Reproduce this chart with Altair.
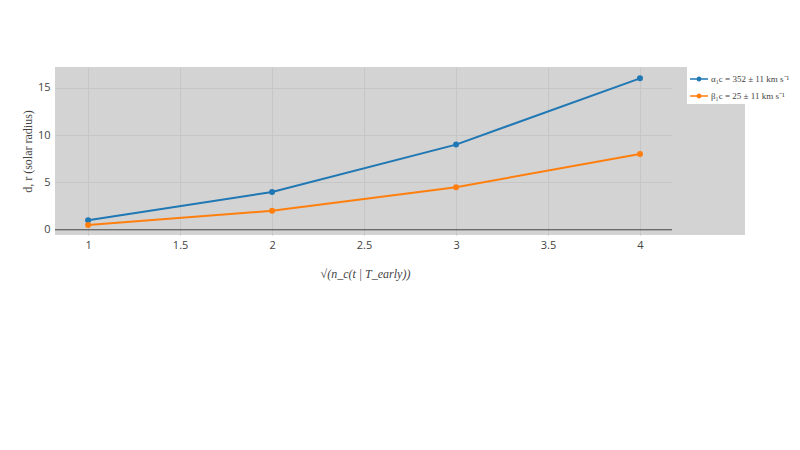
import altair as alt
import pandas as pd

xs = [1, 2, 3, 4]
alpha_vals = [1, 4, 9, 16]
beta_vals = [0.5, 2, 4.5, 8]
series_names = ["α₁c = 352 ± 11 km s⁻¹", "β₁c = 25 ± 11 km s⁻¹"]
colors = ["#1f77b4", "#ff7f0e"]
x_ticks = [1, 1.5, 2, 2.5, 3, 3.5, 4]
y_ticks = [0, 5, 10, 15]

rows = []
for name, vals in zip(series_names, [alpha_vals, beta_vals]):
    for x, y in zip(xs, vals):
        rows.append({"x": x, "y": y, "series": name})
df = pd.DataFrame(rows)

W, H = 617, 168
xscale = alt.Scale(domain=[0.82, 4.174], nice=False, zero=False)
yscale = alt.Scale(domain=[-0.55, 17.2], nice=False, zero=False)
color = alt.Color(
    "series:N",
    scale=alt.Scale(domain=series_names, range=colors),
    legend=alt.Legend(
        title=None,
        orient="none",
        legendX=632,
        legendY=0,
        fillColor="white",
        padding=3,
        labelFont="Liberation Serif",
        labelFontSize=9,
        labelColor="#444",
        labelLimit=200,
        symbolType="M-1,-0.08L1,-0.08L1,0.08L-1,0.08Z M0.27,0A0.27,0.27 0 1,1 -0.27,0A0.27,0.27 0 1,1 0.27,0Z",
        symbolSize=324,
        symbolStrokeWidth=0,
        rowPadding=3,
        labelOffset=3,
    ),
)

xaxis = alt.Axis(
    values=x_ticks, format="~g", ticks=False, domain=False, grid=True, gridColor="#c6c6c6",
    labelFont="Open Sans", labelFontSize=11, labelColor="#444", labelPadding=4,
    title="√(n_c(t | T_early))", titleFont="Liberation Serif", titleFontSize=12,
    titleFontWeight="normal", titleColor="#444", titleFontStyle="italic",
    titleX=310, titleY=38, titleBaseline="middle",
)
yaxis = alt.Axis(
    values=y_ticks, ticks=False, domain=False, grid=True, gridColor="#c6c6c6",
    gridOpacity=alt.condition("datum.value == 0", alt.value(0), alt.value(1)),
    labelFont="Open Sans", labelFontSize=11, labelColor="#444", labelPadding=5,
    title="d, r (solar radius)", titleFont="Liberation Serif", titleFontSize=12,
    titleFontWeight="normal", titleColor="#444",
    titleX=-28, titleY=84, titleAngle=-90, titleAlign="center", titleBaseline="middle",
)

ext = alt.Chart(pd.DataFrame({"a": [0]})).mark_rect(color="#d3d3d3").encode(
    x=alt.value(W), x2=alt.value(690), y=alt.value(0), y2=alt.value(H)
)

lines = alt.Chart(df).mark_line(strokeWidth=2).encode(
    x=alt.X("x:Q", scale=xscale, axis=xaxis),
    y=alt.Y("y:Q", scale=yscale, axis=yaxis),
    color=color,
)
zero_df = pd.DataFrame({"y": [0]})
zero_line = alt.Chart(zero_df).mark_rule(color="#444", strokeWidth=1).encode(
    y=alt.Y("y:Q", scale=yscale, axis=yaxis)
)
points = alt.Chart(df).mark_point(filled=True, size=36, opacity=1).encode(
    x=alt.X("x:Q", scale=xscale, axis=xaxis),
    y=alt.Y("y:Q", scale=yscale, axis=yaxis),
    color=color,
)

chart = alt.layer(ext, lines, zero_line, points).properties(
    width=W, height=H,
    background="white",
    autosize=alt.AutoSizeParams(type="none"),
    padding={"left": 47, "top": 59, "right": 120, "bottom": 200},
).configure_view(fill="#d3d3d3", stroke=None)

chart.save("out.html", embed_options={"renderer": "svg", "actions": False})
